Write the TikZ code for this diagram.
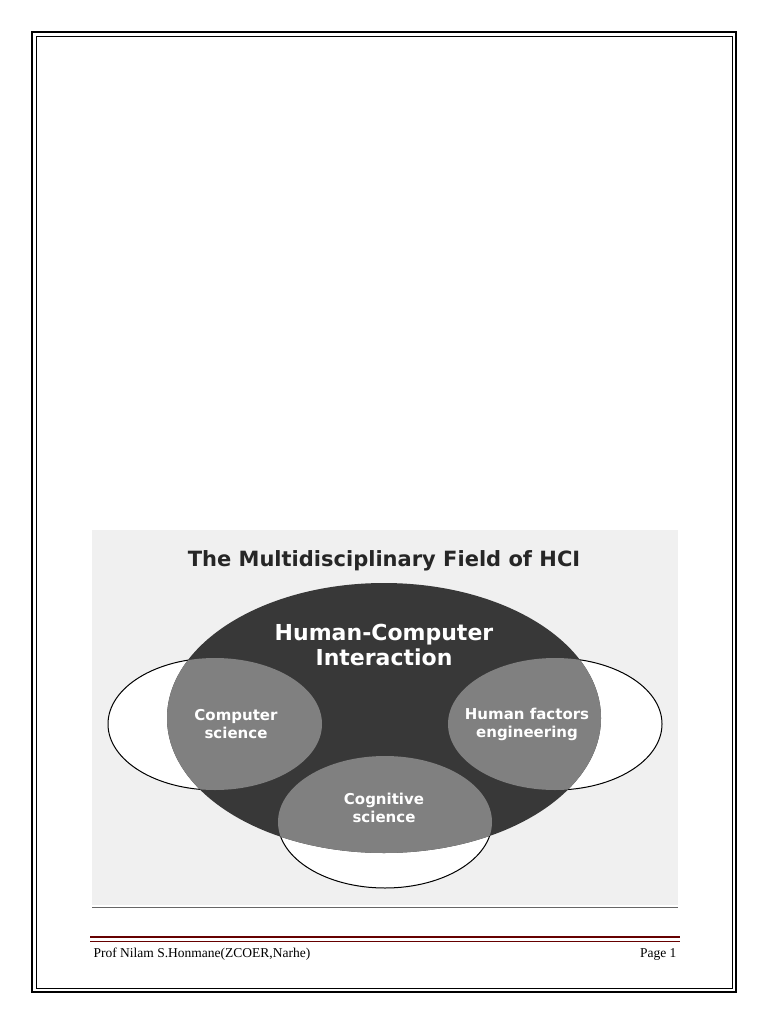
\documentclass[tikz,border=0pt]{standalone}
\usepackage{fontspec}
\setmainfont{Liberation Serif}
\newfontfamily\djsans{DejaVu Sans}
\begin{document}
\begin{tikzpicture}[x=1pt,y=-1pt,
  lbl/.style={text=white,font=\djsans\bfseries\fontsize{15}{18}\selectfont,align=center},
  ring/.style={draw=black,line width=1pt}]
\useasboundingbox (0,0) rectangle (768,1024);
\fill[white] (0,0) rectangle (768,1024);
\draw[line width=1.2pt] (32,32) rectangle (736,992);
\draw[line width=0.6pt] (36,36) rectangle (732,988);
\fill[black!6] (92,530) rectangle (678,905);
\draw[black!60,line width=0.8pt] (92,907) -- (678,907);
\draw[red!40!black,line width=1.6pt] (90,937) -- (680,937);
\draw[red!40!black,line width=0.6pt] (90,941) -- (680,941);
\node[anchor=base west,font=\fontsize{13.5}{16}\selectfont] (ft) at (90,957) {Prof Nilam S.Honmane(ZCOER,Narhe)};
\node[anchor=base east,font=\fontsize{13.5}{16}\selectfont] (pg) at (680,957) {Page 1};
\node[font=\djsans\bfseries\fontsize{21}{25}\selectfont,text=black!85] (title) at (384,561) {The Multidisciplinary Field of HCI};
\fill[white] (215,724) ellipse (107 and 66);
\fill[white] (555,724) ellipse (107 and 66);
\fill[white] (385,822) ellipse (107 and 66);
\fill[black!78] (384,718) ellipse (217 and 135);
\begin{scope}
\clip (384,718) ellipse (217 and 135);
\fill[black!50] (215,724) ellipse (107 and 66);
\fill[black!50] (555,724) ellipse (107 and 66);
\fill[black!50] (385,822) ellipse (107 and 66);
\end{scope}
\begin{scope}[even odd rule]
\clip (0,0) rectangle (768,1024) (384,718) ellipse (217 and 135);
\draw[ring] (215,724) ellipse (107 and 66);
\draw[ring] (555,724) ellipse (107 and 66);
\draw[ring] (385,822) ellipse (107 and 66);
\end{scope}
\node[lbl,font=\djsans\bfseries\fontsize{22}{25}\selectfont] (hci) at (384,645) {Human-Computer\\Interaction};
\node[lbl] (cs) at (236,724) {Computer\\science};
\node[lbl] (hf) at (527,724) {Human factors\\engineering};
\node[lbl] (cg) at (384,808) {Cognitive\\science};
\end{tikzpicture}
\end{document}
